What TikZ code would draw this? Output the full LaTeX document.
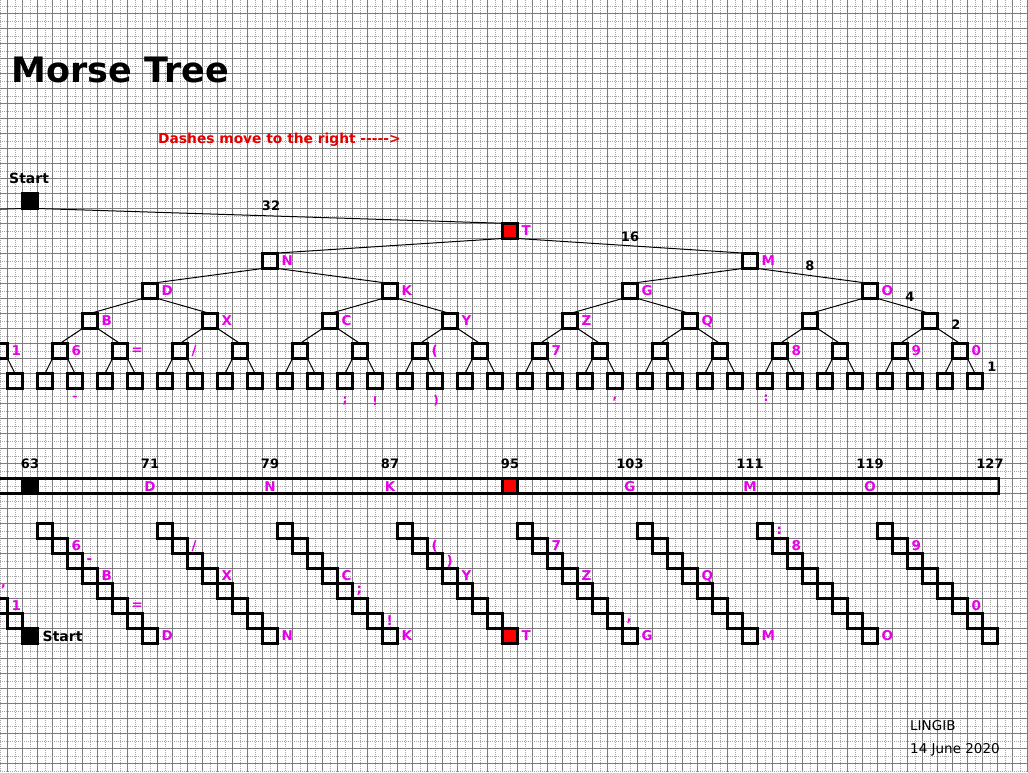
\documentclass[tikz,border=0pt]{standalone}
\usepackage{fontspec}
\setmainfont{DejaVu Sans}
\definecolor{mag}{RGB}{232,0,232}
\definecolor{boxred}{RGB}{255,0,0}
\definecolor{txtred}{RGB}{228,0,0}
\definecolor{gridsolid}{RGB}{125,125,125}
\definecolor{griddot}{RGB}{165,165,165}
\begin{document}
\begin{tikzpicture}[x=1pt,y=-1pt,
  cell/.style={draw=black, line width=2.2pt, minimum size=15pt, inner sep=0pt, outer sep=0pt, shape=rectangle},
  link/.style={black, line width=1pt},
  lab/.style={text=mag, font=\fontsize{13.5}{16}\selectfont\bfseries, inner sep=0pt, anchor=west},
  smalllab/.style={text=mag, font=\fontsize{12}{14}\selectfont\bfseries, inner sep=0pt},
  num/.style={text=black, font=\fontsize{13}{15}\selectfont\bfseries, inner sep=0pt},
  blk/.style={text=black, font=\fontsize{14}{16}\selectfont\bfseries, inner sep=0pt},
  plain/.style={text=black, font=\fontsize{13.5}{16}\selectfont, inner sep=0pt, anchor=base west},
  gsolid/.style={draw=gridsolid, line width=0.9pt},
  gdot/.style={draw=griddot, line width=0.8pt, dash pattern=on 1pt off 1pt}
]
\useasboundingbox (0,0) rectangle (1028,772);
\fill[white] (0,0) rectangle (1028,772);
\begin{scope}
\clip (0,0) rectangle (1028,772);
% grid
\foreach \i in {0,...,68} {
  \draw[gdot] ({15*\i},0) -- ({15*\i},772);
  \draw[gsolid] ({15*\i+7.5},0) -- ({15*\i+7.5},772);
}
\foreach \j in {0,...,51} {
  \draw[gdot] (0,{15*\j+6}) -- (1028,{15*\j+6});
  \draw[gsolid] (0,{15*\j+13.5}) -- (1028,{15*\j+13.5});
}

% title and notes
\node[anchor=base west, inner sep=0pt, font=\fontsize{35}{40}\selectfont\bfseries] (title) at (11,82) {Morse Tree};
\node[anchor=base west, inner sep=0pt, text=txtred, font=\fontsize{13.8}{16}\selectfont\bfseries] (dashes) at (158,143) {Dashes move to the right -\kern0pt-\kern0pt-\kern0pt-\kern0pt->};
\node[blk, anchor=base west] (topstart) at (9,183) {Start};
\node[plain] (author) at (910,730) {LINGIB};
\node[plain] (date) at (910,753) {14 June 2020};

% ---------------- tree ----------------
\coordinate (tE) at (-450,223.5);
\node[cell, fill=black] (t63) at (30,201) {};
\node[cell, fill=boxred] (t95) at (510,231) {};
\foreach \v in {79,111} \node[cell] (t\v) at ({15*\v-915},261) {};
\foreach \v in {71,87,103,119} \node[cell] (t\v) at ({15*\v-915},291) {};
\foreach \v in {67,75,83,91,99,107,115,123} \node[cell] (t\v) at ({15*\v-915},321) {};
\foreach \v in {61,65,...,125} \node[cell] (t\v) at ({15*\v-915},351) {};
\foreach \v in {62,64,...,126} \node[cell] (t\v) at ({15*\v-915},381) {};

\draw[link] (t63.south west) -- (tE);
\foreach \p/\c in {63/32,95/16,79/8,111/8,71/4,87/4,103/4,119/4,67/2,75/2,83/2,91/2,99/2,107/2,115/2,123/2,65/1,69/1,73/1,77/1,81/1,85/1,89/1,93/1,97/1,101/1,105/1,109/1,113/1,117/1,121/1,125/1} {
  \pgfmathtruncatemacro\lc{\p-\c}
  \pgfmathtruncatemacro\rc{\p+\c}
  \ifnum\lc>31 \draw[link] (t\p.south west) -- (t\lc.north); \fi
  \draw[link] (t\p.south east) -- (t\rc.north);
}
\draw[link] (t61.south east) -- (t62.north);

\foreach \v/\t in {95/T,79/N,111/M,71/D,87/K,103/G,119/O,67/B,75/X,83/C,91/Y,99/Z,107/Q,61/1,65/6,69/=,73/{/},89/{(},97/7,113/8,121/9,125/0}
  \node[lab] (tl\v) at ([xshift=4pt]t\v.east) {\t};
\node[smalllab] (tl66) at (75,398) {-};
\node[smalllab] (tl84) at (345,401) {;};
\node[smalllab] (tl86) at (375,401) {!};
\node[smalllab] (tl90) at (436,401) {)};
\node[smalllab] (tl102) at (615,399) {,};
\node[smalllab] (tl112) at (766,398) {:};

\node[num] (n32) at (271,206) {32};
\node[num] (n16) at (630,237) {16};
\node[num] (n8) at (810,266) {8};
\node[num] (n4) at (910,297) {4};
\node[num] (n2) at (956,325) {2};
\node[num] (n1) at (992,367) {1};

% ---------------- bar ----------------
\node[draw=black, line width=2.2pt, minimum width=1012pt, minimum height=15pt, inner sep=0pt, outer sep=0pt] (bar) at (493,486) {};
\node[cell, fill=black] (b63) at (30,486) {};
\node[cell, fill=boxred] (b95) at (510,486) {};
\foreach \v/\t in {71/D,79/N,87/K,103/G,111/M,119/O}
  \node[lab, anchor=center] (bl\v) at ({15*\v-915},487) {\t};
\foreach \v in {63,71,...,127}
  \node[num] (bn\v) at ({15*\v-915},464) {\v};

% ---------------- staircases ----------------
\foreach \v in {61,62,64,65,...,94,96,97,...,127} {
  \pgfmathtruncatemacro\yy{531+15*mod(\v,8)}
  \node[cell] (s\v) at ({15*\v-915},\yy) {};
}
\node[cell, fill=black] (s63) at (30,636) {};
\node[cell, fill=boxred] (s95) at (510,636) {};
\node[blk, anchor=west] (sstart) at ([xshift=5pt]s63.east) {Start};
\node[lab] (sl60) at (0.8,590) {'};
\foreach \v/\t in {61/1,65/6,66/-,67/B,69/=,71/D,73/{/},75/X,79/N,83/C,84/{;},86/!,87/K,89/{(},90/{)},91/Y,95/T,97/7,99/Z,102/{,},103/G,107/Q,111/M,112/{:},113/8,119/O,121/9,125/0}
  \node[lab] (sl\v) at ([xshift=4pt]s\v.east) {\t};
\end{scope}
\end{tikzpicture}
\end{document}
